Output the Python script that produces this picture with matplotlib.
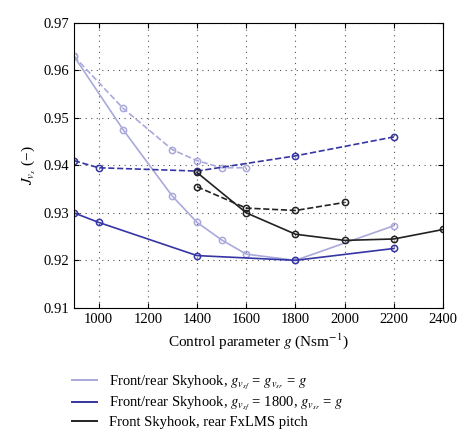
import matplotlib
matplotlib.use("Agg")
import matplotlib.pyplot as plt
from matplotlib.lines import Line2D

plt.rcParams['font.family'] = ['Liberation Serif', 'DejaVu Serif']
plt.rcParams['mathtext.fontset'] = 'stix'

x_ls = [900, 1100, 1300, 1400, 1500, 1600, 1800, 2200]
y_ls = [0.963, 0.9475, 0.9335, 0.928, 0.9243, 0.9213, 0.920, 0.9273]
x_ld = [900, 1100, 1300, 1400, 1500, 1600]
y_ld = [0.963, 0.952, 0.9433, 0.941, 0.9395, 0.9395]
x_bs = [900, 1000, 1400, 1800, 2200]
y_bs = [0.930, 0.928, 0.921, 0.920, 0.9225]
x_bd = [900, 1000, 1400, 1800, 2200]
y_bd = [0.941, 0.9395, 0.9388, 0.942, 0.946]
x_ks = [1400, 1600, 1800, 2000, 2200, 2400]
y_ks = [0.9385, 0.930, 0.9255, 0.9242, 0.9245, 0.9265]
x_kd = [1400, 1600, 1800, 2000]
y_kd = [0.9355, 0.931, 0.9305, 0.9322]

light, blue, black = '#a9a9dc', '#3535a5', '#222222'

fig = plt.figure(figsize=(4.74, 4.41), dpi=100)
ax = fig.add_axes([0.156, 0.302, 0.779, 0.646])
mk = dict(marker='o', markersize=4.5, markerfacecolor='none', markeredgewidth=1.1, linewidth=1.2)
ax.plot(x_ls, y_ls, '-', color=light, **mk)
ax.plot(x_ld, y_ld, '--', color=light, **mk)
ax.plot(x_bs, y_bs, '-', color=blue, **mk)
ax.plot(x_bd, y_bd, '--', color=blue, **mk)
ax.plot(x_ks, y_ks, '-', color=black, **mk)
ax.plot(x_kd, y_kd, '--', color=black, **mk)

ax.set_xlim(900, 2400)
ax.set_ylim(0.91, 0.97)
ax.set_xticks(range(1000, 2401, 200))
ax.set_yticks([0.91, 0.92, 0.93, 0.94, 0.95, 0.96, 0.97])
ax.grid(True, linestyle=(0, (1, 4)), color='#555555', linewidth=0.8)
ax.tick_params(direction='in', labelsize=10.5, top=True, right=True)
ax.set_xlabel(r'Control parameter $g$ (Nsm$^{-1}$)', fontsize=11)
ax.set_ylabel(r'$J_{v_s}$ (−)', fontsize=11)

handles = [Line2D([], [], color=c, linewidth=1.4) for c in (light, blue, black)]
fig.legend(handles,
           [r'Front/rear Skyhook, $g_{v_{sf}}$ = $g_{v_{sr}}$ = $g$',
            r'Front/rear Skyhook, $g_{v_{sf}}$ = 1800, $g_{v_{sr}}$ = $g$',
            'Front Skyhook, rear FxLMS pitch'],
           loc='upper left', bbox_to_anchor=(0.14, 0.165), frameon=False,
           fontsize=10.5, handlelength=1.7, labelspacing=0.2, borderaxespad=0)
fig.savefig('out.png', dpi=100)
